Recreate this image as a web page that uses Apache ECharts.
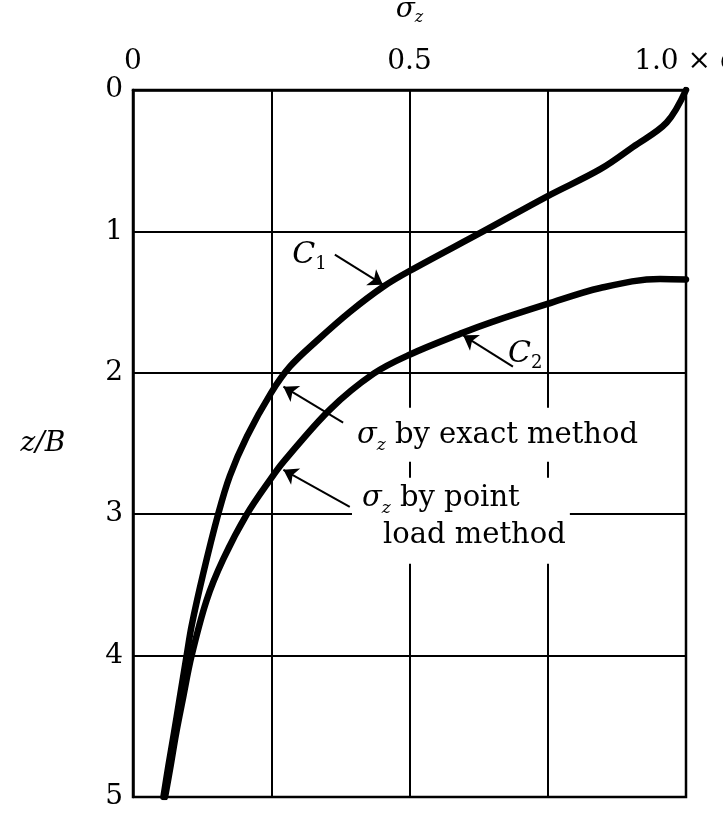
<!DOCTYPE html>
<html><head><meta charset="utf-8">
<script src="https://cdn.jsdelivr.net/npm/echarts@6/dist/echarts.min.js"></script>
<style>html,body{margin:0;padding:0;background:#fff;overflow:hidden}#c{width:723px;height:819px}</style>
</head><body><div id="c"></div>
<script>
// ---- data ----
const xTicks = [0, 0.25, 0.5, 0.75, 1.0];
const xTickLabels = ['0', '', '0.5', '', '1.0 × q'];
const yTickLabels = ['0', '1', '2', '3', '4', '5'];

// C1: sigma_z by exact method
const c1Sigma = [1.0, 0.965, 0.905, 0.845, 0.75, 0.633, 0.5, 0.453, 0.392, 0.332, 0.284, 0.25, 0.206, 0.175, 0.154, 0.127, 0.106, 0.097, 0.084, 0.074, 0.064, 0.055];
const c1Depth = [0, 0.23, 0.40, 0.56, 0.75, 1.0, 1.28, 1.39, 1.57, 1.775, 1.955, 2.14, 2.45, 2.73, 3.0, 3.42, 3.79, 4.0, 4.31, 4.55, 4.78, 5.0];

// C2: sigma_z by point load method
const c2Sigma = [1.0, 0.953, 0.845, 0.748, 0.646, 0.597, 0.5, 0.435, 0.356, 0.272, 0.25, 0.206, 0.163, 0.133, 0.106, 0.090, 0.078, 0.068, 0.058];
const c2Depth = [1.34, 1.336, 1.40, 1.515, 1.645, 1.716, 1.872, 2.006, 2.26, 2.63, 2.745, 3.0, 3.32, 3.61, 4.0, 4.31, 4.55, 4.78, 5.0];

const FONT = 'DejaVu Serif';
const chart = echarts.init(document.getElementById('c'), null, {renderer: 'canvas'});

function pairs(xs, ys) { return xs.map((x, i) => [x, ys[i]]); }

const arrowStyle = {
  symbol: ['none', 'arrow'],
  symbolSize: 14,
  silent: true,
  animation: false,
  label: {show: false},
  emphasis: {disabled: true},
  lineStyle: {color: '#000', width: 2, type: 'solid'}
};

const subRich = {
  s: {fontFamily: FONT, fontStyle: 'italic', fontSize: 29, lineHeight: 36, color: '#000'},
  sub: {fontFamily: FONT, fontStyle: 'italic', fontSize: 17, lineHeight: 10, verticalAlign: 'bottom', color: '#000'},
  t: {fontFamily: FONT, fontSize: 29, lineHeight: 36, color: '#000'}
};

chart.setOption({
  animation: false,
  backgroundColor: '#fff',
  grid: {left: 133, right: 37, top: 90, bottom: 22, outerBoundsMode: 'none', containLabel: false,
    show: true, borderColor: '#000', borderWidth: 2.5, backgroundColor: 'transparent'},
  xAxis: {
    type: 'value', position: 'top', min: 0, max: 1, interval: 0.25,
    name: '{s|σ}{sub|z}', nameLocation: 'middle', nameGap: 64,
    nameTextStyle: {rich: {
      s: {fontFamily: FONT, fontStyle: 'italic', fontSize: 28, lineHeight: 32, color: '#000'},
      sub: {fontFamily: FONT, fontStyle: 'italic', fontSize: 16, lineHeight: 8, verticalAlign: 'bottom', color: '#000'}
    }},
    axisLine: {show: true, lineStyle: {color: '#000', width: 2.5}},
    axisTick: {show: false},
    splitLine: {show: true, lineStyle: {color: '#000', width: 2}},
    axisLabel: {
      fontFamily: FONT, fontSize: 28, color: '#000', margin: 14,
      formatter: v => { const i = xTicks.findIndex(t => Math.abs(t - v) < 1e-9); return i >= 0 ? xTickLabels[i] : ''; }
    }
  },
  yAxis: {
    type: 'value', inverse: true, min: 0, max: 5, interval: 1,
    axisLine: {show: true, lineStyle: {color: '#000', width: 2.5}},
    axisTick: {show: false},
    splitLine: {show: true, lineStyle: {color: '#000', width: 2}},
    axisLabel: {fontFamily: FONT, fontSize: 28, color: '#000', margin: 10, formatter: v => yTickLabels[v] ?? ''}
  },
  series: [
    {
      name: 'C1', type: 'line', data: pairs(c1Sigma, c1Depth), symbol: 'none',
      smooth: 0.35, z: 5,
      lineStyle: {color: '#000', width: 6.5, cap: 'round', join: 'round'},
      markLine: Object.assign({}, arrowStyle, {data: [
        [{coord: [0.365, 1.164]}, {coord: [0.452, 1.377]}],
        [{coord: [0.380, 2.353]}, {coord: [0.272, 2.098]}]
      ]})
    },
    {
      name: 'C2', type: 'line', data: pairs(c2Sigma, c2Depth), symbol: 'none',
      smooth: 0.35, z: 5,
      lineStyle: {color: '#000', width: 6.5, cap: 'round', join: 'round'},
      markLine: Object.assign({}, arrowStyle, {data: [
        [{coord: [0.687, 1.957]}, {coord: [0.597, 1.735]}],
        [{coord: [0.392, 2.948]}, {coord: [0.272, 2.686]}]
      ]})
    }
  ]
});

// ---- annotations placed in data space ----
const P = d => chart.convertToPixel({gridIndex: 0}, d);
function rectFrom(a, b) {
  const p1 = P(a), p2 = P(b);
  return {type: 'rect', z: 1, silent: true,
    shape: {x: Math.min(p1[0], p2[0]), y: Math.min(p1[1], p2[1]), width: Math.abs(p2[0] - p1[0]), height: Math.abs(p2[1] - p1[1])},
    style: {fill: '#fff'}};
}
function richText(d, text, rich) {
  const p = P(d);
  return {type: 'text', z: 10, silent: true, x: p[0], y: p[1],
    style: {text: text, rich: rich, align: 'left', verticalAlign: 'middle', fill: '#000'}};
}
const cRich = {
  c: {fontFamily: FONT, fontStyle: 'italic', fontSize: 30, lineHeight: 36, color: '#000'},
  n: {fontFamily: FONT, fontSize: 18, lineHeight: 10, verticalAlign: 'bottom', color: '#000'}
};
const yName = P([0, 2.5]);
chart.setOption({
  graphic: [
    rectFrom([0.383, 2.247], [0.935, 2.629]),
    rectFrom([0.396, 2.742], [0.790, 3.351]),
    richText([0.405, 2.445], '{s|σ}{sub|z}{t| by exact method}', subRich),
    richText([0.414, 2.89], '{s|σ}{sub|z}{t| by point}', subRich),
    richText([0.452, 3.153], '{t|load method}', subRich),
    richText([0.288, 1.171], '{c|C}{n|1}', cRich),
    richText([0.678, 1.872], '{c|C}{n|2}', cRich),
    {type: 'text', z: 10, silent: true, x: yName[0] - 90, y: yName[1],
      style: {text: 'z/B', fontFamily: FONT, fontStyle: 'italic', fontSize: 28, align: 'center', verticalAlign: 'middle', fill: '#000'}}
  ]
});
</script>
</body></html>
